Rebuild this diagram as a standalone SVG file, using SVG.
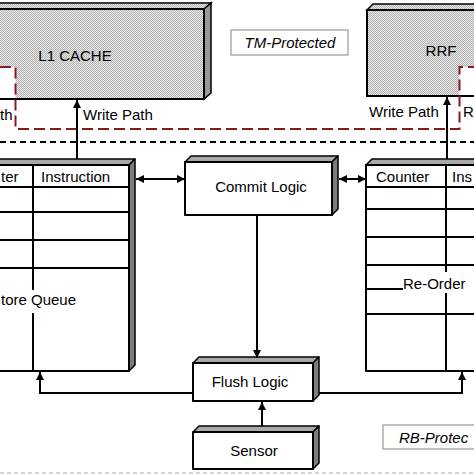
<svg xmlns="http://www.w3.org/2000/svg" width="474" height="474" viewBox="0 0 474 474">
<defs>
<pattern id="dots" width="2" height="2" patternUnits="userSpaceOnUse">
<rect width="2" height="2" fill="#e6e6e6"/>
<rect width="1" height="1" fill="#b4b4b4"/>
<rect x="1" y="1" width="1" height="1" fill="#b4b4b4"/>
</pattern>
<marker id="ah" viewBox="0 0 10 10" refX="10" refY="5" markerWidth="9" markerHeight="8" markerUnits="userSpaceOnUse" orient="auto-start-reverse">
<path d="M0,0 L10,5 L0,10 z" fill="#000"/>
</marker>
<style>
.t{font-family:"Liberation Sans",Arial,sans-serif;font-size:15px;fill:#000}
.it{font-style:italic}
.box{fill:#fff;stroke:#000;stroke-width:2;stroke-linejoin:round}
.top{fill:#a8a8a8;stroke:#000;stroke-width:1.5;stroke-linejoin:round}
.side{fill:#7c7c7c;stroke:#000;stroke-width:1.5;stroke-linejoin:round}
.ln{stroke:#000;stroke-width:2;fill:none}
.cn{stroke:#000;stroke-width:2;fill:none}
.red{stroke:#8b1a1a;stroke-width:2;fill:none;stroke-dasharray:11 5}
.blk{stroke:#000;stroke-width:2;fill:none;stroke-dasharray:6 4}
.lab{fill:#fff;stroke:#9a9a9a;stroke-width:1.2}
</style>
</defs>
<rect width="474" height="474" fill="#fff"/>

<g id="l1cache">
<polygon points="-10,9 -4,3 211,3 204,9" fill="url(#dots)" stroke="#000" stroke-width="1.5"/>
<polygon points="204,9 211,3 211,93 204,99" fill="#9a9a9a" stroke="#000" stroke-width="1.5"/>
<rect x="-10" y="9" width="214" height="90" fill="url(#dots)" stroke="#000" stroke-width="2"/>
<rect x="-2" y="67" width="17.5" height="31" fill="#fff"/>
<text class="t" x="75" y="61" text-anchor="middle">L1 CACHE</text>
</g>

<g id="rrf">
<polygon points="367,10 373,4 480,4 480,10" fill="url(#dots)" stroke="#000" stroke-width="1.5"/>
<rect x="367" y="10" width="120" height="86" fill="url(#dots)" stroke="#000" stroke-width="2"/>
<rect x="459.5" y="67" width="20" height="28" fill="#fff"/>
<text class="t" x="441" y="56" text-anchor="middle">RRF</text>
</g>

<g id="tm-protected">
<rect class="lab" x="231" y="30" width="117" height="25"/>
<text class="t it" x="290" y="48" text-anchor="middle">TM-Protected</text>
</g>

<g id="store-queue">
<polygon class="top" points="-10,165 -4,159 135,159 129,165"/>
<polygon class="side" points="129,165 135,159 135,365 129,371"/>
<rect class="box" x="-10" y="165" width="139" height="206"/>
<path class="ln" d="M-10,187H129M-10,212H129M-10,240H129M-10,268H129M33,165V371"/>
<rect x="0" y="290" width="80" height="23" fill="#fff"/>
<text class="t" x="1" y="182">ter</text>
<text class="t" x="41" y="182">Instruction</text>
<text class="t" x="1" y="305">tore Queue</text>
</g>

<g id="reorder-buffer">
<polygon class="top" points="366,165 372,159 480,159 480,165"/>
<rect class="box" x="366" y="165" width="120" height="206"/>
<path class="ln" d="M366,187H480M366,209H480M366,237H480M366,265H480M366,289H480M366,314H480M446,165V371"/>
<rect x="403" y="272" width="77" height="21" fill="#fff"/>
<text class="t" x="376" y="182">Counter</text>
<text class="t" x="452" y="182">Ins</text>
<text class="t" x="403" y="289">Re-Order</text>
</g>

<g id="commit-logic">
<polygon class="top" points="185,162 191,156 338,156 332,162"/>
<polygon class="side" points="332,162 338,156 338,209 332,215"/>
<rect class="box" x="185" y="162" width="147" height="53"/>
<text class="t" x="261" y="192" text-anchor="middle">Commit Logic</text>
</g>

<g id="flush-logic">
<polygon class="top" points="193,363 199,357 319,357 313,363"/>
<polygon class="side" points="313,363 319,357 319,395 313,401"/>
<rect class="box" x="193" y="363" width="120" height="38"/>
<text class="t" x="250" y="387" text-anchor="middle">Flush Logic</text>
</g>

<g id="sensor">
<polygon class="top" points="193,432 199,426 319,426 313,432"/>
<polygon class="side" points="313,432 319,426 319,463 313,469"/>
<rect class="box" x="193" y="432" width="120" height="37"/>
<text class="t" x="254" y="456" text-anchor="middle">Sensor</text>
</g>

<g id="rb-protected">
<rect class="lab" x="383" y="425" width="100" height="24"/>
<text class="t it" x="399" y="443">RB-Protec</text>
</g>

<g id="connectors">
<path class="red" d="M0,67H15.5V129H459.5V67H474"/>
<line class="blk" x1="0" y1="142" x2="474" y2="142"/>
<line x1="0" y1="473" x2="474" y2="473" stroke="#c8c8c8" stroke-width="1.5" stroke-dasharray="4 3"/>
<line class="cn" x1="77" y1="159" x2="77" y2="100" marker-end="url(#ah)"/>
<line class="cn" x1="447" y1="159" x2="447" y2="97" marker-end="url(#ah)"/>
<line class="cn" x1="136" y1="179" x2="185" y2="179" marker-start="url(#ah)" marker-end="url(#ah)"/>
<line class="cn" x1="339" y1="179" x2="366" y2="179" marker-start="url(#ah)" marker-end="url(#ah)"/>
<line class="cn" x1="257" y1="215" x2="257" y2="358" marker-end="url(#ah)"/>
<line class="cn" x1="262" y1="426" x2="262" y2="402" marker-end="url(#ah)"/>
<path class="cn" d="M193,393H40V372" marker-end="url(#ah)"/>
<path class="cn" d="M319,393H462V372" marker-end="url(#ah)"/>
<text class="t" x="83" y="120">Write Path</text>
<text class="t" x="369" y="117">Write Path</text>
<text class="t" x="0" y="120">th</text>
<text class="t" x="463" y="117">R</text>
</g>
</svg>
